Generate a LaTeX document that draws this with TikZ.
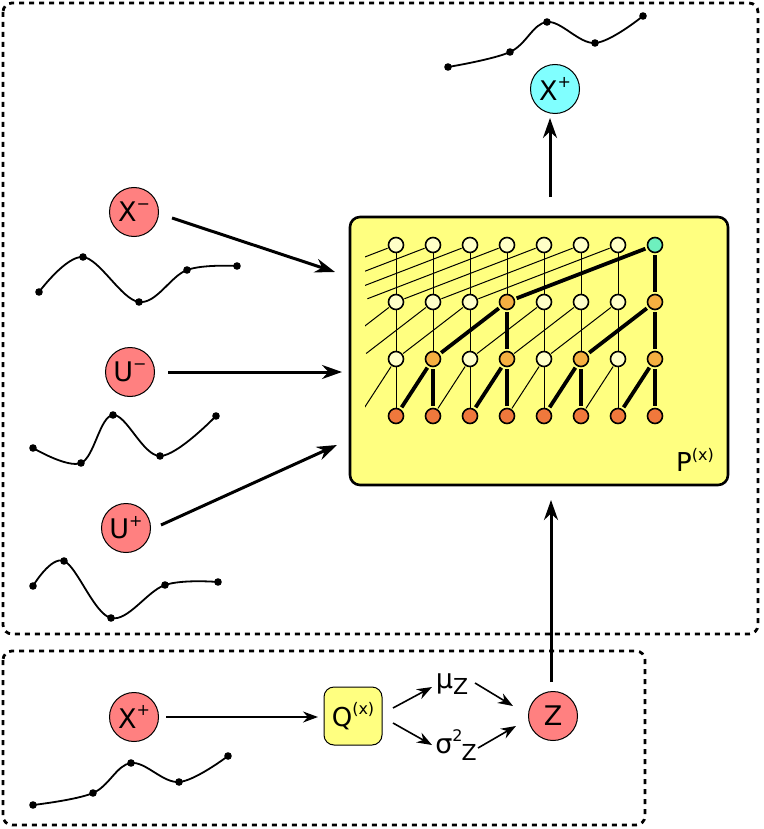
\documentclass[tikz,border=0pt]{standalone}
\usepackage{fontspec}
\setmainfont{DejaVu Sans}
\usetikzlibrary{arrows.meta,calc}
\definecolor{cyn}{RGB}{128,255,255}
\definecolor{pink}{RGB}{255,128,128}
\definecolor{ylw}{RGB}{255,255,128}
\definecolor{lylw}{RGB}{255,255,200}
\definecolor{orn}{RGB}{245,175,65}
\definecolor{dorn}{RGB}{240,120,60}
\definecolor{grn}{RGB}{110,240,190}
\newcommand{\mycrv}[5]{%
  \draw[curve] plot[smooth,tension=0.6] coordinates {#1 #2 #3 #4 #5};
  \foreach \p in {#1,#2,#3,#4,#5}{\fill \p circle (3.8pt);}}
\newcommand{\sups}[1]{\raisebox{0.45em}{\fontsize{16}{16}\selectfont #1}}
\newcommand{\subs}[1]{\raisebox{-0.25em}{\fontsize{22}{22}\selectfont #1}}
\begin{document}
\begin{tikzpicture}[x=1pt,y=-1pt,
  big/.style={circle,draw,line width=1pt,fill=pink,minimum size=49pt,inner sep=0pt,font=\fontsize{27}{27}\selectfont},
  gn/.style={circle,draw,line width=1.6pt,minimum size=15pt,inner sep=0pt,fill=lylw},
  org/.style={gn,fill=orn},
  bot/.style={gn,fill=dorn},
  arr/.style={-{Stealth[length=20pt,width=14pt]},line width=3pt},
  tarr/.style={-{Stealth[length=15pt,width=11pt]},line width=1.6pt},
  thin/.style={line width=1pt},
  thick/.style={line width=3.8pt},
  curve/.style={line width=1.8pt},
  box/.style={draw,line width=2.8pt,dash pattern=on 5pt off 5pt,rounded corners=9pt}]
\useasboundingbox (0,0) rectangle (763,829);
\draw[box] (3,3) rectangle (758,634);
\draw[box] (3,651) rectangle (645,825);
% curves
\mycrv{(39,292)}{(83,257)}{(139,302)}{(187,270)}{(237,266)}
\mycrv{(33,448)}{(81,463)}{(113,415)}{(160,456)}{(216,416)}
\mycrv{(33,586)}{(64,561)}{(111,618)}{(165,585)}{(218,582)}
\mycrv{(33,805)}{(93,793)}{(131,763)}{(179,782)}{(228,756)}
\mycrv{(448,67)}{(510,52)}{(547,22)}{(595,43)}{(643,16)}
% P box
\node[draw,line width=2.6pt,fill=ylw,rounded corners=10pt,minimum width=378pt,minimum height=268pt,inner sep=0pt] (P) at (539,351) {};
\node[font=\fontsize{26}{26}\selectfont] (Pl) at (695,460) {P\sups{(x)}};
% grid
\foreach \i in {0,...,7}{
  \pgfmathsetmacro{\xx}{396+37*\i}
  \coordinate (c0\i) at (\xx,245);
  \coordinate (c1\i) at (\xx,302);
  \coordinate (c2\i) at (\xx,359);
  \coordinate (c3\i) at (\xx,416);
}
\begin{scope}
\clip (365,230) rectangle (720,430);
\foreach \i in {0,...,6}{
  \pgfmathtruncatemacro{\a}{\i-4}
  \pgfmathsetmacro{\xx}{396+37*\a}
  \draw[thin] ($(\xx,302)!9pt!(c0\i)$) -- ($(c0\i)!9pt!(\xx,302)$);
  \draw[thin] ($(c0\i)+(0,8)$) -- ($(c1\i)+(0,-8)$);
}
\foreach \i in {0,1,2,4,5,6}{
  \pgfmathtruncatemacro{\a}{\i-2}
  \pgfmathsetmacro{\xx}{396+37*\a}
  \draw[thin] ($(\xx,359)!9pt!(c1\i)$) -- ($(c1\i)!9pt!(\xx,359)$);
  \draw[thin] ($(c1\i)+(0,8)$) -- ($(c2\i)+(0,-8)$);
}
\foreach \i in {0,2,4,6}{
  \pgfmathtruncatemacro{\a}{\i-1}
  \pgfmathsetmacro{\xx}{396+37*\a}
  \draw[thin] ($(\xx,416)!9pt!(c2\i)$) -- ($(c2\i)!9pt!(\xx,416)$);
  \draw[thin] ($(c2\i)+(0,8)$) -- ($(c3\i)+(0,-8)$);
}
\end{scope}
\foreach \i in {0,...,6}{\node[gn] (n0\i) at (c0\i) {};}
\node[gn,fill=grn] (n07) at (c07) {};
\foreach \i in {0,1,2,4,5,6}{\node[gn] (n1\i) at (c1\i) {};}
\foreach \i in {3,7}{\node[org] (n1\i) at (c1\i) {};}
\foreach \i in {0,2,4,6}{\node[gn] (n2\i) at (c2\i) {};}
\foreach \i in {1,3,5,7}{\node[org] (n2\i) at (c2\i) {};}
\foreach \i in {0,...,7}{\node[bot] (n3\i) at (c3\i) {};}
\tikzset{tk/.style={thick,shorten <=2pt,shorten >=2pt}}
\draw[tk] (n07) -- (n17); \draw[tk] (n07) -- (n13);
\draw[tk] (n13) -- (n23); \draw[tk] (n13) -- (n21);
\draw[tk] (n17) -- (n27); \draw[tk] (n17) -- (n25);
\foreach \i/\j in {1/0,3/2,5/4,7/6}{
  \draw[tk] (n2\i) -- (n3\i); \draw[tk] (n2\i) -- (n3\j);
}
% inputs
\node[big] (xm) at (134,212) {X\sups{−}};
\node[big] (um) at (130,372) {U\sups{−}};
\node[big] (up) at (126,528) {U\sups{+}};
\node[big,fill=cyn] (xt) at (555,89) {X\sups{+}};
\node[big] (xb) at (134,717) {X\sups{+}};
\node[big] (z) at (553,716) {Z};
\node[draw,line width=1pt,fill=ylw,rounded corners=10pt,minimum width=58pt,minimum height=58pt,inner sep=0pt,font=\fontsize{26}{26}\selectfont] (q) at (353,716) {Q\sups{(x)}};
\node[font=\fontsize{27}{27}\selectfont] (mu) at (452,684) {μ\subs{Z}};
\node[font=\fontsize{27}{27}\selectfont] (sg) at (456,745) {σ\sups{2}\kern-1pt\subs{Z}};
\coordinate (a1) at (172,218); \coordinate (b1) at (335,272);
\coordinate (a2) at (168,372); \coordinate (b2) at (342,372);
\coordinate (a3) at (161,525); \coordinate (b3) at (337,445);
\coordinate (a4) at (550,197); \coordinate (b4) at (550,118);
\coordinate (a5) at (551,682); \coordinate (b5) at (551,500);
\coordinate (a6) at (166,717); \coordinate (b6) at (318,717);
\coordinate (a7) at (393,708); \coordinate (b7) at (432,687);
\coordinate (a8) at (393,723); \coordinate (b8) at (432,745);
\coordinate (a9) at (475,683); \coordinate (b9) at (513,706);
\coordinate (a10) at (478,748); \coordinate (b10) at (516,726);
\draw[arr] (a1) -- (b1);
\draw[arr] (a2) -- (b2);
\draw[arr] (a3) -- (b3);
\draw[arr] (a4) -- (b4);
\draw[arr] (a5) -- (b5);
\draw[tarr] (a6) -- (b6);
\draw[tarr] (a7) -- (b7);
\draw[tarr] (a8) -- (b8);
\draw[tarr] (a9) -- (b9);
\draw[tarr] (a10) -- (b10);
\end{tikzpicture}
\end{document}
